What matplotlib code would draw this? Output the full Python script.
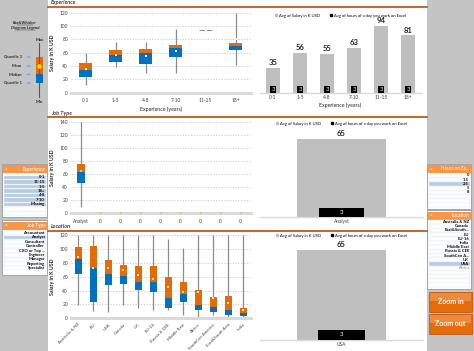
import matplotlib
matplotlib.use('Agg')
import matplotlib.pyplot as plt
from matplotlib.patches import Rectangle
import numpy as np

plt.rcParams['font.family'] = ['Lato', 'DejaVu Sans']

W, H = 474, 351

# ---------------- data ----------------
exp_cats = ['0-1', '1-5', '4-8', '7-10', '11-15', '18+']
exp_min = [11.5, 39, 30, 30, 94, 41.5]
exp_q1 = [23, 46.5, 43, 53, 94, 64]
exp_med = [34, 56.5, 60, 66.5, 94, 70]
exp_q3 = [45, 63.5, 65.5, 71, 94, 75]
exp_max = [60, 75.5, 75.5, 95, 94, 120]
exp_mean = [35, 56, 55, 63, 94, 81]
exp_salary = [35, 56, 55, 63, 94, 81]
exp_hours = [3, 3, 3, 3, 3, 3]

job_cats = ['Analyst', '0', '0', '0', '0', '0', '0', '0', '0']
job_min = [10]
job_q1 = [46]
job_med = [63]
job_q3 = [75]
job_max = [140]
job_mean = [65, 0, 0, 0, 0, 0, 0, 0, 0]
job_bar_cats = ['Analyst']
job_salary = [65]
job_hours = [3]

loc_cats = ['Australia & NZ', 'EU', 'USA', 'Canada', 'UK', 'EU-16', 'Russia & CEE',
            'Middle East', 'Africa', 'SouthCen America', 'East&South Asia', 'India']
loc_min = [19.2, 10.6, 9.6, 19.2, 15.4, 11.5, 11.5, 4.8, 2.4, 4.8, 1.9, 2.4]
loc_q1 = [63.4, 24, 48, 49, 40.8, 37.4, 15.4, 23.5, 11.5, 9.6, 4.3, 3.8]
loc_med = [85.4, 72, 63.4, 61, 51.8, 52, 28.8, 35, 19.2, 16.8, 12.5, 7.2]
loc_q3 = [103.2, 104.6, 84.5, 76.8, 75.4, 75, 59.5, 52.8, 41.3, 30.2, 32, 14.9]
loc_max = [120, 120, 120, 120, 120, 120, 114, 100.8, 120, 120, 120, 120]
loc_mean = [88.8, 73, 72, 69.6, 62.4, 56.6, 45, 38.4, 37.4, 29.8, 21.6, 12.5]
loc_bar_cats = ['USA']
loc_salary = [65]
loc_hours = [3]

exp_slicer = ['0-1', '11-15', '1-5', '18+', '4-8', '7-10', 'Missing']
job_slicer = ['Accountant', 'Analyst', 'Consultant', 'Controller', 'CXO or Top ...',
              'Engineer', 'Manager', 'Reporting', 'Specialist']
hours_slicer = ['0', '1.5', '2.5', '5', '8']
loc_slicer = ['Australia & NZ', 'Canada', 'East&South...', 'EU', 'EU-16', 'India',
              'Middle East', 'Russia & CEE', 'SouthCen A...', 'UK', 'USA', 'Africa']

ORANGE = '#E36C09'
BLUE = '#0070C0'
LINE = '#C55A11'
PANEL = '#C4C4C4'

fig = plt.figure(figsize=(W / 100, H / 100), dpi=100)
fig.patch.set_facecolor(PANEL)

# background axes in pixel coordinates
bg = fig.add_axes([0, 0, 1, 1], zorder=-5)
bg.set_xlim(0, W)
bg.set_ylim(H, 0)
bg.axis('off')
bg.add_patch(Rectangle((48, 0), 379, H, color='white', lw=0))

for y, title in [(6.5, 'Experience'), (117, 'Job Type'), (230.5, 'Location')]:
    bg.plot([48, 427], [y, y], color=LINE, lw=1.3)
    bg.text(51, y - 1.2, title, fontsize=4.0, style='italic', fontweight='bold',
            color='#404040', va='bottom', ha='left')


def ax_px(x0, y0, x1, y1):
    a = fig.add_axes([x0 / W, 1 - y1 / H, (x1 - x0) / W, (y1 - y0) / H])
    a.set_facecolor('none')
    return a


def style_box_axes(ax, n, ymax, step):
    ax.set_xlim(-0.5, n - 0.5)
    ax.set_ylim(0, ymax)
    ax.set_yticks(np.arange(0, ymax + 1, step))
    ax.yaxis.grid(True, ls=(0, (2, 2)), color='#BFBFBF', lw=0.5)
    ax.set_axisbelow(True)
    for s in ['left', 'right', 'top']:
        ax.spines[s].set_visible(False)
    ax.spines['bottom'].set_color('#D9D9D9')
    ax.spines['bottom'].set_linewidth(2.2)
    ax.tick_params(length=0, labelsize=3.5, pad=2, colors='#404040')
    ax.set_ylabel('Salary in K USD', fontsize=3.8, fontweight='bold', labelpad=3, color='#262626')


def draw_box(ax, mn, q1, med, q3, mx, width):
    x = np.arange(len(mn))
    ax.vlines(x, mn, mx, color='#8C8C8C', lw=0.9, zorder=2)
    ax.bar(x, np.array(med) - np.array(q1), bottom=q1, width=width, color=BLUE, zorder=3)
    ax.bar(x, np.array(q3) - np.array(med), bottom=med, width=width, color=ORANGE, zorder=3)
    for xi, a, b in zip(x, q1, q3):
        if a == b:
            ax.hlines(a, xi - width / 2, xi + width / 2, color='#7F7F7F', lw=0.6, zorder=3)


def draw_bars(ax, cats, sal, hrs, ymax1, ymax2, wbar, wblk):
    x = np.arange(len(cats))
    ax.bar(x, sal, width=wbar, color='#BFBFBF', zorder=2)
    for xi, v in zip(x, sal):
        ax.annotate(str(v), (xi, v), xytext=(0, 1.2), textcoords='offset points',
                    ha='center', va='bottom', fontsize=5.5, fontweight='bold', color='#262626')
    ax.set_xlim(-0.5, len(cats) - 0.5)
    ax.set_ylim(0, ymax1)
    ax.set_yticks([])
    ax.set_xticks(x)
    ax.set_xticklabels(cats)
    ax.tick_params(length=0, labelsize=3.5, pad=2, colors='#404040')
    for s in ['left', 'right', 'top']:
        ax.spines[s].set_visible(False)
    ax.spines['bottom'].set_color('#D9D9D9')
    ax.spines['bottom'].set_linewidth(1.0)
    ax2 = ax.twinx()
    ax2.set_facecolor('none')
    ax2.bar(x, hrs, width=wblk, color='black', zorder=3)
    for xi, v in zip(x, hrs):
        ax2.text(xi, v / 2, str(v), ha='center', va='center', fontsize=4.2, color='white')
    ax2.set_ylim(0, ymax2)
    ax2.set_yticks([])
    ax2.axis('off')
    handles = [Rectangle((0, 0), 1, 1, color='#BFBFBF'), Rectangle((0, 0), 1, 1, color='black')]
    ax.legend(handles, ['Avg of Salary in K USD', 'Avg of hours of a day you work on Excel'],
              loc='lower center', bbox_to_anchor=(0.5, 1.0), ncol=2, fontsize=3.0,
              frameon=False, handlelength=0.6, handleheight=0.6, columnspacing=2.2,
              handletextpad=0.5, borderaxespad=0.2)


# ---------------- Experience ----------------
ax1 = ax_px(70.7, 12.7, 250.7, 92.7)
style_box_axes(ax1, len(exp_cats), 120, 20)
draw_box(ax1, exp_min, exp_q1, exp_med, exp_q3, exp_max, 0.42)
ax1.scatter(np.arange(len(exp_cats)), exp_mean, s=2.5, marker='s', color='#FFF2CC', zorder=4, lw=0)
ax1.set_xticks(np.arange(len(exp_cats)))
ax1.set_xticklabels(exp_cats)
ax1.tick_params(axis='x', pad=4)
ax1.set_xlabel('Experience (years)', fontsize=3.8, labelpad=2, color='#262626')

ax2 = ax_px(259.5, 20, 421.5, 92.7)
draw_bars(ax2, exp_cats, exp_salary, exp_hours, 102.5, 31, 0.52, 0.25)
ax2.set_xlabel('Experience (years)', fontsize=3.8, labelpad=1.5, color='#262626')

# ---------------- Job Type ----------------
ax3 = ax_px(70.7, 121.7, 250.7, 213.3)
style_box_axes(ax3, len(job_cats), 140, 20)
draw_box(ax3, job_min, job_q1, job_med, job_q3, job_max, 0.4)
ax3.scatter(np.arange(len(job_cats)), job_mean, s=2.5, marker='s', color='#C9D46A', zorder=4, lw=0,
            clip_on=False)
ax3.set_xticks(np.arange(len(job_cats)))
ax3.set_xticklabels(job_cats)
ax3.tick_params(axis='x', pad=4)

ax4 = ax_px(260, 128, 423, 216.7)
draw_bars(ax4, job_bar_cats, job_salary, job_hours, 73.9, 32, 0.55, 0.28)

# ---------------- Location ----------------
ax5 = ax_px(70.7, 235, 250.7, 318.3)
style_box_axes(ax5, len(loc_cats), 120, 20)
draw_box(ax5, loc_min, loc_q1, loc_med, loc_q3, loc_max, 0.45)
ax5.scatter(np.arange(len(loc_cats)), loc_mean, s=2.5, marker='s', color='#FFE699', zorder=4, lw=0)
ax5.set_xticks(np.arange(len(loc_cats)))
ax5.set_xticklabels(loc_cats, rotation=45, ha='right', rotation_mode='anchor', fontsize=3.2)
ax5.tick_params(axis='x', pad=3)

ax6 = ax_px(260, 240, 423, 339.5)
draw_bars(ax6, loc_bar_cats, loc_salary, loc_hours, 72.3, 32, 0.55, 0.29)

# ---------------- left legend diagram ----------------
bg.text(25, 22.5, 'Box&Whisker', fontsize=3.0, style='italic', fontweight='bold',
        ha='center', va='center', color='#262626')
bg.text(25, 27.5, 'Diagram Legend', fontsize=3.0, style='italic', fontweight='bold',
        ha='center', va='center', color='#262626')
bg.plot([17, 33], [24.6, 24.6], color='#262626', lw=0.3)
bg.plot([15, 35], [29.6, 29.6], color='#262626', lw=0.3)
bg.plot([39.5, 39.5], [43, 97], color='#595959', lw=0.8)
bg.add_patch(Rectangle((36, 57), 7, 17, color=ORANGE, lw=0))
bg.add_patch(Rectangle((36, 74), 7, 9, color=BLUE, lw=0))
bg.plot([39.5], [66], marker='o', ms=2.2, color='#FFE600', mec='#FFE600')
bg.text(39.5, 40, 'Max', fontsize=3.0, fontweight='bold', ha='center', va='center', color='#262626')
bg.text(39.5, 102, 'Min', fontsize=3.0, fontweight='bold', ha='center', va='center', color='#262626')
for yy, lab in [(57, 'Quartile 3'), (66, 'Mean'), (74.5, 'Median'), (83, 'Quartile 1')]:
    bg.text(22, yy, lab, fontsize=2.9, fontweight='bold', ha='right', va='center', color='#262626')
    bg.annotate('', xy=(34, yy), xytext=(23.5, yy),
                arrowprops=dict(arrowstyle='-|>', color='#8EA9DB', lw=0.7, mutation_scale=3))


# ---------------- slicers ----------------
def slicer(x0, y0, x1, y1, title, items, selected, row_h, first_y, grayed=()):
    bg.add_patch(Rectangle((x0, y0), x1 - x0, y1 - y0, facecolor='#A6A6A6', lw=0))
    bg.add_patch(Rectangle((x0 + 1, y0 + 1), x1 - x0 - 2, y1 - y0 - 2, facecolor='white', lw=0))
    bg.add_patch(Rectangle((x0 + 1, y0 + 1.5), x1 - x0 - 2, 8, facecolor='#F79646', lw=0))
    bg.text(x1 - 2.5, y0 + 5.5, title, fontsize=3.3, color='white', ha='right', va='center')
    bg.text(x0 + 3, y0 + 5.5, '×', fontsize=3.3, color='white', ha='left', va='center')
    for i, it in enumerate(items):
        yc = first_y + i * row_h
        fc = '#B8CCE4' if it in selected else 'white'
        bg.add_patch(Rectangle((x0 + 2, yc - row_h / 2 + 0.3), x1 - x0 - 4, row_h - 0.6,
                               facecolor=fc, edgecolor='#DCE6F1', lw=0.3))
        col = '#A6A6A6' if it in grayed else 'black'
        bg.text(x1 - 3, yc, it, fontsize=3.0, fontweight='bold', ha='right', va='center', color=col)
    yc = first_y + len(items) * row_h
    while yc + row_h / 2 < y1 - 2:
        bg.add_patch(Rectangle((x0 + 2, yc - row_h / 2 + 0.3), x1 - x0 - 4, row_h - 0.6,
                               facecolor='white', edgecolor='#DCE6F1', lw=0.3))
        yc += row_h


slicer(2, 163.5, 48, 218, 'Experience', exp_slicer, set(exp_slicer), 4.5, 177.5)
slicer(2, 220, 48, 276, 'Job Type', job_slicer, {'Analyst'}, 4.4, 233)
slicer(427, 163.5, 472, 210, 'Hours on Ex...', hours_slicer, {'2.5'}, 4.2, 175.5)
slicer(427, 210, 472, 290, 'Location', loc_slicer, {'USA'}, 4.2, 222, grayed={'Africa'})

for yb, lab in [(292, 'Zoom in'), (314, 'Zoom out')]:
    bg.add_patch(Rectangle((429, yb), 43, 20, facecolor='#E46C0A', edgecolor='#C55A11', lw=0.6))
    bg.add_patch(Rectangle((430, yb + 1), 41, 8, facecolor='#F08A3A', lw=0))
    bg.text(450.5, yb + 10, lab, fontsize=5.0, fontweight='bold', color='white', ha='center', va='center')

fig.savefig('out.png', dpi=100, facecolor=fig.get_facecolor())
